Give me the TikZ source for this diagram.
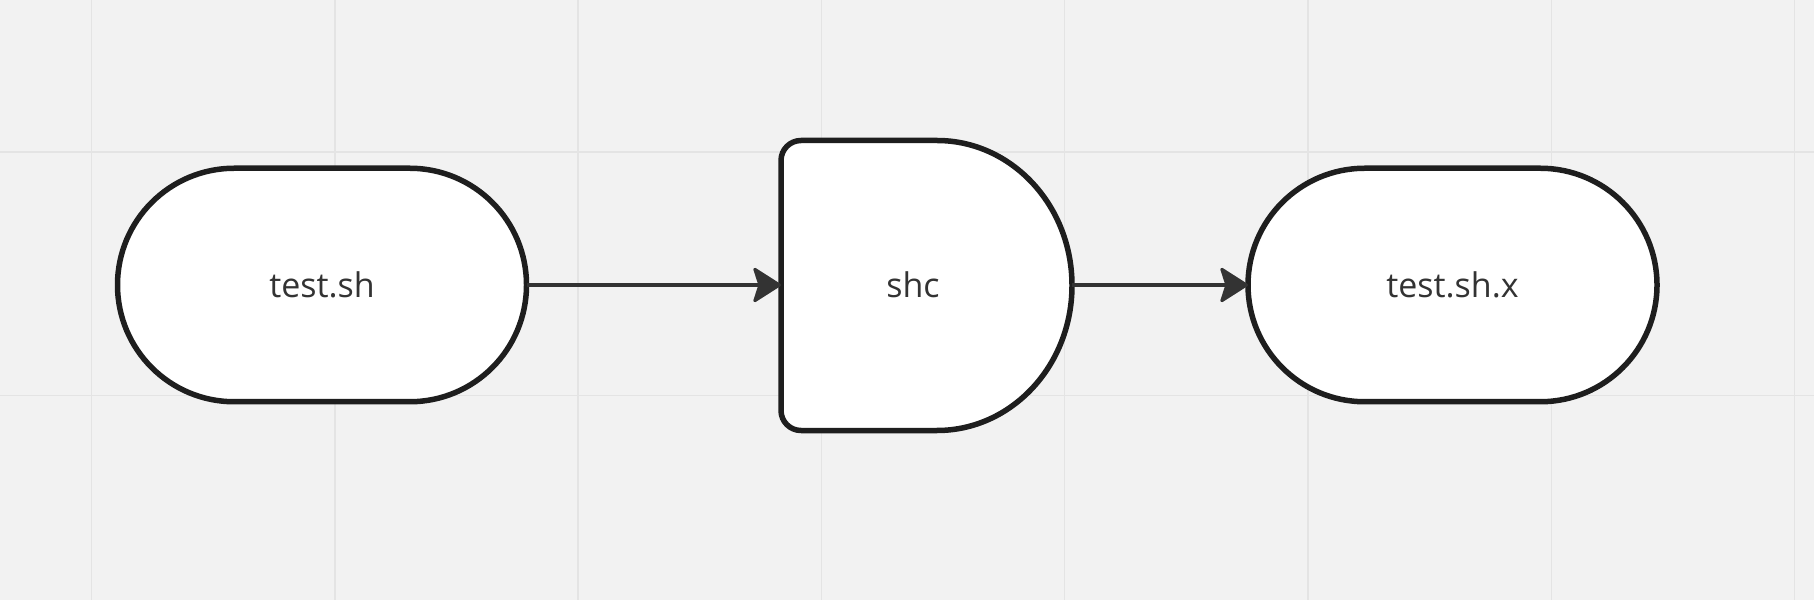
\documentclass[tikz,border=0pt]{standalone}
\usepackage{fontspec}
\setmainfont{Open Sans}
\usetikzlibrary{arrows.meta}
\definecolor{bgc}{HTML}{F2F2F2}
\definecolor{gridc}{HTML}{E4E4E4}
\definecolor{strokec}{HTML}{1E1E1E}
\definecolor{textc}{HTML}{333333}
\definecolor{linec}{HTML}{333333}
\tikzset{
  pill/.style={rectangle, rounded corners=116.75pt, minimum width=409pt, minimum height=233.5pt,
    draw=strokec, line width=5.5pt, fill=white, inner sep=0pt, outer sep=0pt,
    text=textc, font=\fontsize{34}{40}\selectfont},
  dbox/.style={rectangle, minimum width=291pt, minimum height=290pt, inner sep=0pt, outer sep=0pt,
    text=textc, font=\fontsize{34}{40}\selectfont},
  dshape/.style={draw=strokec, line width=5.5pt, fill=white, line join=round},
  conn/.style={draw=linec, line width=4pt, -{Stealth[length=30pt, width=38pt, inset=6pt, line width=3pt, round]}},
  gridline/.style={draw=gridc, line width=1.5pt}
}
\begin{document}
\begin{tikzpicture}[x=1pt, y=1pt]
  \fill[bgc] (0,0) rectangle (1814,600);
  \useasboundingbox (0,0) rectangle (1814,600);
  % grid
  \foreach \gx in {91.5,334.8,578.1,821.4,1064.7,1308,1551.3,1794.6}
    \draw[gridline] (\gx,0) -- (\gx,600);
  \foreach \gy in {448,204.5}
    \draw[gridline] (0,\gy) -- (1814,\gy);
  % D shape (shc)
  \draw[dshape] (937,459.5) -- (801,459.5) arc[start angle=90, end angle=180, radius=20pt]
    -- (781,189.5) arc[start angle=180, end angle=270, radius=20pt]
    -- (937,169.5) arc[start angle=-90, end angle=90, x radius=135pt, y radius=145pt] -- cycle;
  % nodes
  \node[pill] (src) at (322,315) {test.sh};
  \node[dbox] (shc) at (926.5,315) {shc\kern27pt};
  \node[pill] (out) at (1452.5,315) {test.sh.x};
  % connectors
  \draw[conn] (src.east) -- (shc.west);
  \draw[conn] (shc.east) -- (out.west);
\end{tikzpicture}
\end{document}
